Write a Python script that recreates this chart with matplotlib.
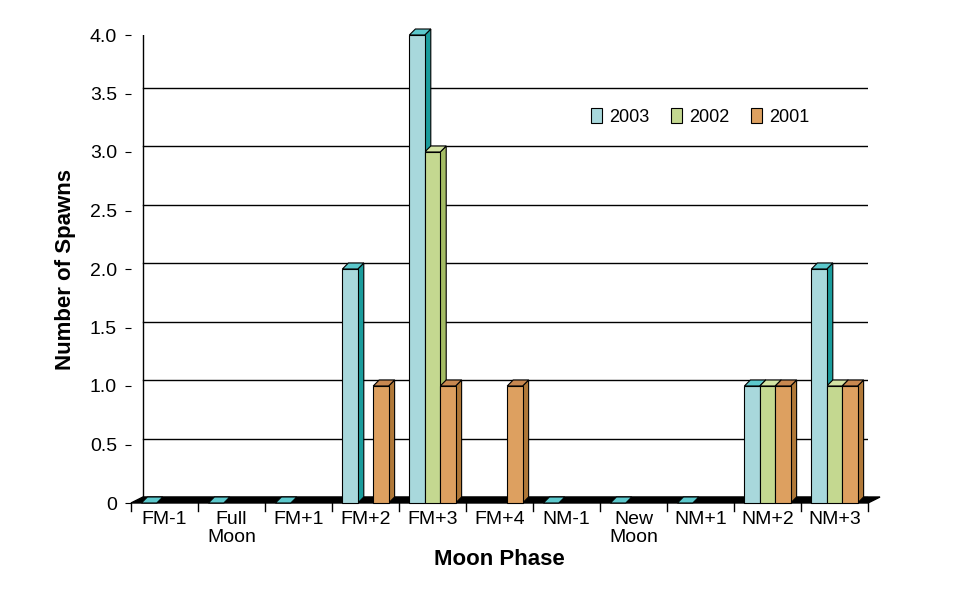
import matplotlib
matplotlib.use("Agg")
import matplotlib.pyplot as plt
from matplotlib.patches import Polygon, Patch
import matplotlib.transforms as mt
import numpy as np

plt.rcParams['font.family'] = ['Liberation Sans', 'DejaVu Sans']

categories = ["FM-1", "Full\nMoon", "FM+1", "FM+2", "FM+3", "FM+4", "NM-1", "New\nMoon", "NM+1", "NM+2", "NM+3"]
series_names = ["2003", "2002", "2001"]
v2003 = [0, 0, 0, 2, 4, 0, 0, 0, 0, 1, 2]
v2002 = [0, 0, 0, 0, 3, 0, 0, 0, 0, 1, 1]
v2001 = [0, 0, 0, 1, 1, 1, 0, 0, 0, 1, 1]
yticks = [0, 0.5, 1.0, 1.5, 2.0, 2.5, 3.0, 3.5, 4.0]
ytick_labels = ["0", "0.5", "1.0", "1.5", "2.0", "2.5", "3.0", "3.5", "4.0"]

faces = ["#A8D8DC", "#C4D890", "#DDA060"]
sides = ["#1A9C9C", "#A4BC64", "#B07838"]
tops = ["#5CC8CC", "#D4E4A4", "#C88850"]

fig = plt.figure(figsize=(9.6, 6.08), dpi=100)
ax = fig.add_axes([131/960, (608-503)/608, 737/960, 468/608])
ax.set_xlim(0, 11)
ax.set_ylim(0, 4)
for s in ax.spines.values():
    s.set_visible(False)

DX, DY = 6, 6  # depth in pixels
def off(dx, dy):
    return ax.transData + mt.ScaledTranslation(dx/100, dy/100, fig.dpi_scale_trans)
back = off(12, 6)

# back wall gridlines
for y in yticks:
    ax.plot([0, 10.9], [y, y], color="black", lw=1, transform=back, zorder=0)
ax.plot([0, 0], [0, 4.05], color="black", lw=1, transform=back, zorder=0)

# floor
x0, y0 = ax.transData.transform((0, 0)); x1, _ = ax.transData.transform((11, 0))
fl = Polygon([[x0, y0], [x1, y0], [x1 + 12, y0 + 6], [x0 + 12, y0 + 6]], closed=True,
             facecolor="black", edgecolor="black", transform=None, zorder=1)
fig.patches.append(fl)
fl.set_figure(fig)

ax.set_yticks(yticks)
ax.set_yticklabels(ytick_labels, fontsize=14)
ax.tick_params(axis='y', length=4, pad=6)
ax.set_xticks(np.arange(11) + 0.5)
ax.set_xticklabels(categories, fontsize=14, linespacing=1.05)
ax.tick_params(axis='x', length=0, pad=6)
for i in range(12):
    ax.plot([i, i], [0, -0.07], color="black", lw=1, clip_on=False)
ax.plot([0, 11], [0, 0], color="black", lw=1)

w = 0.23
data = [v2003, v2002, v2001]
def pix(x, y):
    return ax.transData.transform((x, y))
for si, vals in enumerate(data):
    for ci, v in enumerate(vals):
        xl = ci + 0.5 - 1.5 * w + si * w
        xr = xl + w
        if v == 0:
            if si == 0 and all(d[ci] == 0 for d in data):
                a = pix(xl, 0); b = pix(xr, 0)
                p = Polygon([a, b, b + [DX, DY], a + [DX, DY]], transform=None, closed=True,
                            facecolor=tops[0], edgecolor="black", lw=0.8, zorder=3)
                fig.patches.append(p); p.set_figure(fig)
            continue
        a = pix(xl, 0); b = pix(xr, 0); c = pix(xr, v); d = pix(xl, v)
        side = Polygon([b, b + [DX, DY], c + [DX, DY], c], transform=None, closed=True,
                       facecolor=sides[si], edgecolor="black", lw=0.8, zorder=3)
        top = Polygon([d, c, c + [DX, DY], d + [DX, DY]], transform=None, closed=True,
                      facecolor=tops[si], edgecolor="black", lw=0.8, zorder=3)
        front = Polygon([a, b, c, d], transform=None, closed=True,
                        facecolor=faces[si], edgecolor="black", lw=0.8, zorder=4)
        for p in (side, top, front):
            fig.patches.append(p); p.set_figure(fig)

ax.set_ylabel("Number of Spawns", fontsize=16, fontweight="bold", labelpad=10)
ax.set_xlabel("Moon Phase", fontsize=16, fontweight="bold", labelpad=2)

handles = [Patch(facecolor=faces[i], edgecolor="black", lw=0.8) for i in range(3)]
ax.legend(handles, series_names, ncol=3, frameon=False, fontsize=13,
          loc="center", bbox_to_anchor=((700 - 131) / 737, (608 - 117 - 105) / 468),
          handlelength=0.6, handleheight=0.9, handletextpad=0.4, columnspacing=1.2)

fig.savefig("out.png", dpi=100)
